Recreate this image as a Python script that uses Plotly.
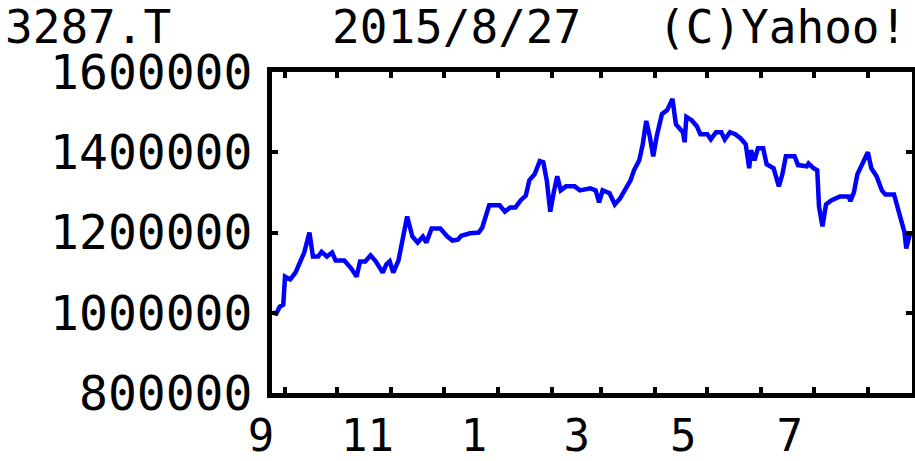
import plotly.graph_objects as go

# daily close
dates = [
    "2014-08-25", "2014-08-27", "2014-08-29", "2014-08-31", "2014-09-01",
    "2014-09-04", "2014-09-07", "2014-09-10", "2014-09-12", "2014-09-15",
    "2014-09-17", "2014-09-20", "2014-09-22", "2014-09-25", "2014-09-28",
    "2014-09-30", "2014-10-05", "2014-10-09", "2014-10-12", "2014-10-14",
    "2014-10-17", "2014-10-20", "2014-10-23", "2014-10-27", "2014-10-29",
    "2014-10-31", "2014-11-02", "2014-11-05", "2014-11-08", "2014-11-10",
    "2014-11-13", "2014-11-16", "2014-11-19", "2014-11-21", "2014-11-24",
    "2014-11-29", "2014-12-03", "2014-12-06", "2014-12-09", "2014-12-11",
    "2014-12-16", "2014-12-21", "2014-12-23", "2014-12-25", "2014-12-27",
    "2015-01-02", "2015-01-05", "2015-01-08", "2015-01-11", "2015-01-14",
    "2015-01-17", "2015-01-19", "2015-01-22", "2015-01-25", "2015-01-27",
    "2015-01-29", "2015-01-30", "2015-01-31", "2015-02-02", "2015-02-04",
    "2015-02-06", "2015-02-09", "2015-02-14", "2015-02-17", "2015-02-23",
    "2015-02-26", "2015-02-28", "2015-03-02", "2015-03-06", "2015-03-09",
    "2015-03-12", "2015-03-15", "2015-03-18", "2015-03-20", "2015-03-23",
    "2015-03-25", "2015-03-27", "2015-03-29", "2015-03-31", "2015-04-02",
    "2015-04-05", "2015-04-08", "2015-04-11", "2015-04-13", "2015-04-17",
    "2015-04-18", "2015-04-19", "2015-04-22", "2015-04-25", "2015-04-27",
    "2015-05-01", "2015-05-03", "2015-05-06", "2015-05-09", "2015-05-11",
    "2015-05-14", "2015-05-17", "2015-05-20", "2015-05-23", "2015-05-25",
    "2015-05-26", "2015-05-28", "2015-05-30", "2015-06-02", "2015-06-04",
    "2015-06-08", "2015-06-09", "2015-06-11", "2015-06-13", "2015-06-15",
    "2015-06-20", "2015-06-22", "2015-06-27", "2015-06-28", "2015-07-01",
    "2015-07-03", "2015-07-04", "2015-07-06", "2015-07-08", "2015-07-11",
    "2015-07-16", "2015-07-21", "2015-07-22", "2015-07-24", "2015-07-26",
    "2015-07-29", "2015-08-01", "2015-08-03", "2015-08-06", "2015-08-09",
    "2015-08-11", "2015-08-16", "2015-08-18", "2015-08-20", "2015-08-22",
    "2015-08-23", "2015-08-25", "2015-08-26",
]
prices = [
    1000000, 998000, 1015000, 1020000, 1090000,
    1083000, 1100000, 1130000, 1150000, 1200000,
    1140000, 1140000, 1152000, 1140000, 1150000,
    1130000, 1130000, 1110000, 1090000, 1128000,
    1128000, 1143000, 1128000, 1100000, 1120000,
    1128000, 1100000, 1130000, 1200000, 1240000,
    1190000, 1175000, 1190000, 1175000, 1210000,
    1210000, 1190000, 1180000, 1182000, 1192000,
    1198000, 1200000, 1212000, 1245000, 1268000,
    1268000, 1252000, 1262000, 1262000, 1280000,
    1292000, 1330000, 1345000, 1378000, 1375000,
    1330000, 1300000, 1252000, 1300000, 1340000,
    1305000, 1315000, 1315000, 1305000, 1310000,
    1305000, 1275000, 1305000, 1298000, 1270000,
    1285000, 1305000, 1330000, 1355000, 1380000,
    1420000, 1478000, 1440000, 1390000, 1440000,
    1495000, 1505000, 1533000, 1470000, 1450000,
    1425000, 1488000, 1480000, 1465000, 1445000,
    1445000, 1432000, 1450000, 1450000, 1432000,
    1450000, 1445000, 1435000, 1420000, 1360000,
    1405000, 1380000, 1410000, 1410000, 1370000,
    1360000, 1345000, 1315000, 1345000, 1390000,
    1390000, 1368000, 1365000, 1372000, 1360000,
    1355000, 1265000, 1215000, 1270000, 1280000,
    1290000, 1290000, 1278000, 1300000, 1345000,
    1370000, 1400000, 1360000, 1340000, 1305000,
    1295000, 1295000, 1262000, 1235000, 1200000,
    1160000, 1195000, 1190000,
]

month_ticks = ["2014-09-01", "2014-10-01", "2014-11-01", "2014-12-01",
               "2015-01-01", "2015-02-01", "2015-03-01", "2015-04-01",
               "2015-05-01", "2015-06-01", "2015-07-01", "2015-08-01"]
month_labels = ["9", "", "11", "", "1", "", "3", "", "5", "", "7", ""]
y_ticks = [800000, 1000000, 1200000, 1400000, 1600000]

FONT = "DejaVu Sans Mono"

fig = go.Figure()
fig.add_trace(go.Scatter(
    x=dates, y=prices, mode="lines",
    line=dict(color="#0000ff", width=4.5),
    hoverinfo="skip",
))

fig.update_layout(
    width=915, height=461,
    margin=dict(l=272, r=3, t=72, b=68),
    paper_bgcolor="white", plot_bgcolor="white",
    showlegend=False,
    font=dict(family=FONT, size=48, color="black"),
)

axis_common = dict(
    showline=True, linecolor="black", linewidth=5, mirror="ticks",
    ticks="inside", ticklen=6, tickwidth=4, tickcolor="black",
    showgrid=False, zeroline=False, automargin=False,
)

fig.update_xaxes(
    type="date",
    range=["2014-08-24 13:00", "2015-08-26 07:00"],
    tickvals=month_ticks, ticktext=month_labels,
    ticklabelshift=-24, ticklabelstandoff=0,
    tickfont=dict(family=FONT, size=44, color="black"),
    **axis_common,
)
fig.update_yaxes(
    range=[800000, 1600000],
    tickvals=y_ticks, tickformat="d",
    ticklabelstandoff=5,
    tickfont=dict(family=FONT, size=48, color="black"),
    **axis_common,
)

# header line
for txt, xp, anchor in [("3287.T", -0.418, "left"),
                        ("2015/8/27", 0.289, "center"),
                        ("(C)Yahoo!", 0.993, "right")]:
    fig.add_annotation(text=txt, xref="paper", yref="paper",
                       x=xp, y=1.141, xanchor=anchor, yanchor="middle",
                       showarrow=False, borderpad=0,
                       font=dict(family=FONT, size=46, color="black"))

# page has a default body margin; drop it so the figure sits at 0,0
fig.write_html("out.html", config={"displayModeBar": False},
               post_script="document.body.style.margin = '0';")
